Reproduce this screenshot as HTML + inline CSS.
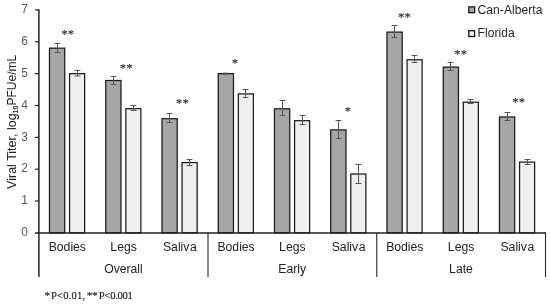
<!DOCTYPE html><html><head><meta charset="utf-8"><title>Viral Titer chart</title>
<style>html,body{margin:0;padding:0;background:#fff}svg{display:block}text{font-family:"Liberation Sans",sans-serif}</style></head><body>
<svg width="550" height="304" viewBox="0 0 550 304">
<rect width="550" height="304" fill="#fff"/>
<rect x="49.48" y="48.17" width="15.25" height="184.73" fill="#a6a6a6" stroke="#1a1a1a" stroke-width="1.25"/>
<path d="M57.50 43.50V52.50M54.60 43.50H60.40M54.60 52.50H60.40" stroke="#555" stroke-width="1" fill="none"/>
<rect x="69.58" y="73.65" width="15.05" height="159.25" fill="#f0f0f0" stroke="#1a1a1a" stroke-width="1.25"/>
<path d="M77.50 70.50V76.00M74.60 70.50H80.40M74.60 76.00H80.40" stroke="#555" stroke-width="1" fill="none"/>
<rect x="105.73" y="80.50" width="15.25" height="152.40" fill="#a6a6a6" stroke="#1a1a1a" stroke-width="1.25"/>
<path d="M113.50 76.50V84.50M110.60 76.50H116.40M110.60 84.50H116.40" stroke="#555" stroke-width="1" fill="none"/>
<rect x="125.83" y="108.69" width="15.05" height="124.22" fill="#f0f0f0" stroke="#1a1a1a" stroke-width="1.25"/>
<path d="M133.50 105.50V110.50M130.60 105.50H136.40M130.60 110.50H136.40" stroke="#555" stroke-width="1" fill="none"/>
<rect x="161.97" y="118.72" width="15.25" height="114.18" fill="#a6a6a6" stroke="#1a1a1a" stroke-width="1.25"/>
<path d="M169.50 113.50V122.50M166.60 113.50H172.40M166.60 122.50H172.40" stroke="#555" stroke-width="1" fill="none"/>
<rect x="182.08" y="162.61" width="15.05" height="70.29" fill="#f0f0f0" stroke="#1a1a1a" stroke-width="1.25"/>
<path d="M189.50 159.50V165.50M186.60 159.50H192.40M186.60 165.50H192.40" stroke="#555" stroke-width="1" fill="none"/>
<rect x="218.22" y="73.65" width="15.25" height="159.25" fill="#a6a6a6" stroke="#1a1a1a" stroke-width="1.25"/>
<path d="M225.50 73.17V74.13M222.60 73.17H228.40M222.60 74.13H228.40" stroke="#555" stroke-width="1" fill="none"/>
<rect x="238.33" y="93.91" width="15.05" height="138.99" fill="#f0f0f0" stroke="#1a1a1a" stroke-width="1.25"/>
<path d="M245.50 89.50V97.50M242.60 89.50H248.40M242.60 97.50H248.40" stroke="#555" stroke-width="1" fill="none"/>
<rect x="274.47" y="108.81" width="15.25" height="124.09" fill="#a6a6a6" stroke="#1a1a1a" stroke-width="1.25"/>
<path d="M282.50 100.50V115.50M279.60 100.50H285.40M279.60 115.50H285.40" stroke="#555" stroke-width="1" fill="none"/>
<rect x="294.57" y="120.69" width="15.05" height="112.21" fill="#f0f0f0" stroke="#1a1a1a" stroke-width="1.25"/>
<path d="M302.50 115.50V124.50M299.60 115.50H305.40M299.60 124.50H305.40" stroke="#555" stroke-width="1" fill="none"/>
<rect x="330.72" y="129.90" width="15.25" height="103.00" fill="#a6a6a6" stroke="#1a1a1a" stroke-width="1.25"/>
<path d="M338.50 120.50V138.50M335.60 120.50H341.40M335.60 138.50H341.40" stroke="#555" stroke-width="1" fill="none"/>
<rect x="350.82" y="174.01" width="15.05" height="58.89" fill="#f0f0f0" stroke="#1a1a1a" stroke-width="1.25"/>
<path d="M358.50 164.50V183.50M355.60 164.50H361.40M355.60 183.50H361.40" stroke="#555" stroke-width="1" fill="none"/>
<rect x="386.97" y="32.09" width="15.25" height="200.81" fill="#a6a6a6" stroke="#1a1a1a" stroke-width="1.25"/>
<path d="M394.50 25.50V37.50M391.60 25.50H397.40M391.60 37.50H397.40" stroke="#555" stroke-width="1" fill="none"/>
<rect x="407.07" y="59.80" width="15.05" height="173.10" fill="#f0f0f0" stroke="#1a1a1a" stroke-width="1.25"/>
<path d="M414.50 55.50V62.50M411.60 55.50H417.40M411.60 62.50H417.40" stroke="#555" stroke-width="1" fill="none"/>
<rect x="443.22" y="67.12" width="15.25" height="165.78" fill="#a6a6a6" stroke="#1a1a1a" stroke-width="1.25"/>
<path d="M450.50 62.50V70.50M447.60 62.50H453.40M447.60 70.50H453.40" stroke="#555" stroke-width="1" fill="none"/>
<rect x="463.32" y="102.19" width="15.05" height="130.71" fill="#f0f0f0" stroke="#1a1a1a" stroke-width="1.25"/>
<path d="M470.50 99.50V103.50M467.60 99.50H473.40M467.60 103.50H473.40" stroke="#555" stroke-width="1" fill="none"/>
<rect x="499.47" y="116.97" width="15.25" height="115.93" fill="#a6a6a6" stroke="#1a1a1a" stroke-width="1.25"/>
<path d="M507.50 112.50V120.50M504.60 112.50H510.40M504.60 120.50H510.40" stroke="#555" stroke-width="1" fill="none"/>
<rect x="519.57" y="162.10" width="15.05" height="70.80" fill="#f0f0f0" stroke="#1a1a1a" stroke-width="1.25"/>
<path d="M527.50 159.50V164.50M524.60 159.50H530.40M524.60 164.50H530.40" stroke="#555" stroke-width="1" fill="none"/>
<path d="M38.9 9.3V277" stroke="#222" stroke-width="1.5" fill="none"/>
<path d="M35 233.00H546.05" stroke="#222" stroke-width="1.3" fill="none"/>
<path d="M35 201.05H38.9" stroke="#222" stroke-width="1.2" fill="none"/>
<path d="M35 169.20H38.9" stroke="#222" stroke-width="1.2" fill="none"/>
<path d="M35 137.35H38.9" stroke="#222" stroke-width="1.2" fill="none"/>
<path d="M35 105.50H38.9" stroke="#222" stroke-width="1.2" fill="none"/>
<path d="M35 73.65H38.9" stroke="#222" stroke-width="1.2" fill="none"/>
<path d="M35 41.80H38.9" stroke="#222" stroke-width="1.2" fill="none"/>
<path d="M35 9.95H38.9" stroke="#222" stroke-width="1.2" fill="none"/>
<path d="M208.00 232.40V277" stroke="#2a2a2a" stroke-width="1.1" fill="none"/>
<path d="M376.75 232.40V277" stroke="#2a2a2a" stroke-width="1.1" fill="none"/>
<path d="M545.50 232.40V277" stroke="#2a2a2a" stroke-width="1.1" fill="none"/>
<text x="28" y="236.10" font-size="12" text-anchor="end" fill="#595959">0</text>
<text x="28" y="204.25" font-size="12" text-anchor="end" fill="#595959">1</text>
<text x="28" y="172.40" font-size="12" text-anchor="end" fill="#595959">2</text>
<text x="28" y="140.55" font-size="12" text-anchor="end" fill="#595959">3</text>
<text x="28" y="108.70" font-size="12" text-anchor="end" fill="#595959">4</text>
<text x="28" y="76.85" font-size="12" text-anchor="end" fill="#595959">5</text>
<text x="28" y="45.00" font-size="12" text-anchor="end" fill="#595959">6</text>
<text x="28" y="13.15" font-size="12" text-anchor="end" fill="#595959">7</text>
<text transform="translate(67.33 250.7) scale(1 1.04)" font-size="12.2" text-anchor="middle" fill="#222">Bodies</text>
<text transform="translate(123.58 250.7) scale(1 1.04)" font-size="12.2" text-anchor="middle" fill="#222">Legs</text>
<text transform="translate(179.83 250.7) scale(1 1.04)" font-size="12.2" text-anchor="middle" fill="#222">Saliv<tspan dx='0.5'>a</tspan></text>
<text transform="translate(236.08 250.7) scale(1 1.04)" font-size="12.2" text-anchor="middle" fill="#222">Bodies</text>
<text transform="translate(292.32 250.7) scale(1 1.04)" font-size="12.2" text-anchor="middle" fill="#222">Legs</text>
<text transform="translate(348.57 250.7) scale(1 1.04)" font-size="12.2" text-anchor="middle" fill="#222">Saliv<tspan dx='0.5'>a</tspan></text>
<text transform="translate(404.82 250.7) scale(1 1.04)" font-size="12.2" text-anchor="middle" fill="#222">Bodies</text>
<text transform="translate(461.07 250.7) scale(1 1.04)" font-size="12.2" text-anchor="middle" fill="#222">Legs</text>
<text transform="translate(517.32 250.7) scale(1 1.04)" font-size="12.2" text-anchor="middle" fill="#222">Saliv<tspan dx='0.5'>a</tspan></text>
<text transform="translate(123.48 272.8) scale(1 1.04)" font-size="12.2" text-anchor="middle" fill="#222">Overall</text>
<text transform="translate(292.22 272.8) scale(1 1.04)" font-size="12.2" text-anchor="middle" fill="#222">Early</text>
<text transform="translate(460.97 272.8) scale(1 1.04)" font-size="12.2" text-anchor="middle" fill="#222">Late</text>
<text transform="translate(15.6 188.9) rotate(-90)" font-size="12.5" fill="#222">Viral Titer, log<tspan font-size="7" dy="2.4" font-weight="bold">10</tspan><tspan dy="-2.4" font-size="12.05">PFUe/mL</tspan></text>
<rect x="468.8" y="6.9" width="5.8" height="5.8" fill="#a6a6a6" stroke="#1a1a1a" stroke-width="1.3"/>
<rect x="468.8" y="30.7" width="5.8" height="5.8" fill="#f0f0f0" stroke="#1a1a1a" stroke-width="1.3"/>
<text x="477.6" y="13.5" font-size="12" letter-spacing="0.08" fill="#222">Can-Alberta</text>
<text x="477.6" y="37.3" font-size="12" letter-spacing="0.05" fill="#222">Florida</text>
<text x="61.30" y="37.80" font-size="12.6" letter-spacing="0.2" fill="#222" stroke="#222" stroke-width="0.1" style="font-family:'Liberation Serif',serif">**</text>
<text x="119.70" y="72.00" font-size="12.6" letter-spacing="0.2" fill="#222" stroke="#222" stroke-width="0.1" style="font-family:'Liberation Serif',serif">**</text>
<text x="175.90" y="107.30" font-size="12.6" letter-spacing="0.2" fill="#222" stroke="#222" stroke-width="0.1" style="font-family:'Liberation Serif',serif">**</text>
<text x="231.70" y="67.30" font-size="12.6" letter-spacing="0.2" fill="#222" stroke="#222" stroke-width="0.1" style="font-family:'Liberation Serif',serif">*</text>
<text x="344.70" y="115.40" font-size="12.6" letter-spacing="0.2" fill="#222" stroke="#222" stroke-width="0.1" style="font-family:'Liberation Serif',serif">*</text>
<text x="397.90" y="21.40" font-size="12.6" letter-spacing="0.2" fill="#222" stroke="#222" stroke-width="0.1" style="font-family:'Liberation Serif',serif">**</text>
<text x="454.30" y="58.10" font-size="12.6" letter-spacing="0.2" fill="#222" stroke="#222" stroke-width="0.1" style="font-family:'Liberation Serif',serif">**</text>
<text x="512.30" y="105.80" font-size="12.6" letter-spacing="0.2" fill="#222" stroke="#222" stroke-width="0.1" style="font-family:'Liberation Serif',serif">**</text>
<text y="299.1" font-size="10.67" fill="#222" stroke="#222" stroke-width="0.15" style="font-family:'Liberation Serif',serif"><tspan x="44.6" font-size="11.3" dy="-0.4">*</tspan><tspan x="51.0" dy="0.4" letter-spacing="0.15">P&lt;0.01,</tspan><tspan x="86.8" font-size="11.3" dy="-0.4" letter-spacing="-0.5">**</tspan><tspan x="98.8" dy="0.4" letter-spacing="-0.3">P&lt;0.001</tspan></text>
</svg></body></html>
